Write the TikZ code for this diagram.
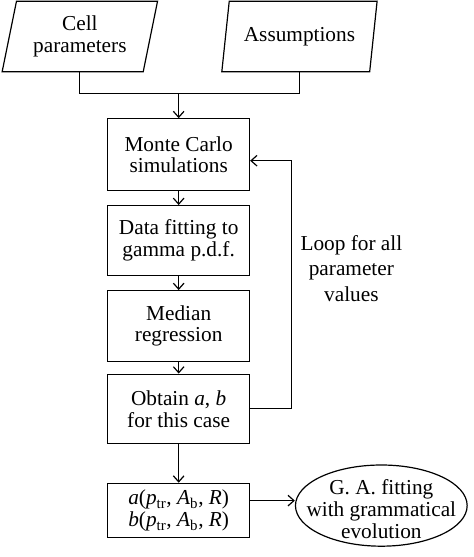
\documentclass[tikz,border=0pt]{standalone}
\usepackage{fontspec}
\setmainfont{Liberation Serif}
\usetikzlibrary{arrows.meta,positioning,shapes.geometric}

\begin{document}
\begin{tikzpicture}[
    x=0.75pt,y=-0.75pt,
    txt/.style={font=\fontsize{16}{16.5}\selectfont,align=center},
    inbox/.style={txt,draw,line width=0.9pt,trapezium,trapezium left angle=77,trapezium right angle=103,trapezium stretches=true,minimum width=117pt,minimum height=53pt},
    procbox/.style={txt,draw,line width=0.9pt,minimum width=106.5pt,inner sep=2pt},
    >={Straight Barb[length=4.5pt,width=8pt,line width=0.9pt]},
    every path/.style={line width=0.9pt}
]
\useasboundingbox (0,-1) rectangle (474,557);
\node[inbox] (cell) at (80,35.5) {Cell\\parameters};
\node[inbox] (assum) at (300,35.5) {Assumptions};

\node[procbox,minimum height=54pt] (mc) at (179,154) {Monte Carlo\\simulations};
\node[procbox,minimum height=52.5pt] (fit) at (179,240) {Data fitting to\\gamma p.d.f.};
\node[procbox,minimum height=53pt] (med) at (179,325.5) {Median\\regression};
\node[procbox,minimum height=52pt] (obt) at (179,408.5) {Obtain \textit{a}, \textit{b}\\for this case};
\node[procbox,minimum height=41pt] (ab) at (179,510.5)
    {\textit{a}(\textit{p}\textsubscript{tr}, \textit{A}\textsubscript{b}, \textit{R})\\\textit{b}(\textit{p}\textsubscript{tr}, \textit{A}\textsubscript{b}, \textit{R})};
\node[draw,ellipse,line width=0.9pt,minimum width=129pt,minimum height=61pt,inner sep=0pt] (ga) at (382,505.5) {};
\node[txt] (galbl) at (382,509) {G. A. fitting\\with grammatical\\evolution};

\coordinate (join) at (179,93);
\draw (cell.south) |- (join) -| (assum.south);
\draw[->] (join) -- (mc.north);
\draw[->] (mc) -- (fit);
\draw[->] (fit) -- (med);
\draw[->] (med) -- (obt);
\draw[->] (obt) -- (ab);
\draw[->] ([yshift=7.5pt]ab.east) -- ([yshift=7.5pt]ab.east -| ga.west);

% loop back
\coordinate (turn) at (292,408.5);
\draw[->] (obt.east) -- (turn) |- ([yshift=-4.5pt]mc.east);
\node[txt,font=\fontsize{16}{19}\selectfont] (looplbl) at (352,268) {Loop for all\\parameter\\values};
\end{tikzpicture}
\end{document}
